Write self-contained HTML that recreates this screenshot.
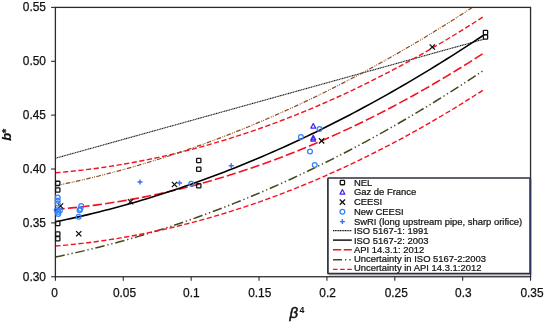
<!DOCTYPE html>
<html><head><meta charset="utf-8"><title>b* versus beta^4</title>
<style>
html,body{margin:0;padding:0;background:#fff;}
svg{display:block;font-family:"Liberation Sans",sans-serif;}
</style></head><body>
<svg width="544" height="322" viewBox="0 0 544 322">
<rect width="544" height="322" fill="#fff"/>
<g id="curves">
<path d="M55.40 158.24 L60.83 156.73 L66.26 155.22 L71.69 153.71 L77.12 152.20 L82.55 150.69 L87.98 149.19 L93.41 147.68 L98.84 146.17 L104.27 144.66 L109.70 143.15 L115.13 141.64 L120.56 140.14 L125.99 138.63 L131.42 137.12 L136.85 135.61 L142.28 134.10 L147.71 132.59 L153.15 131.09 L158.58 129.58 L164.01 128.07 L169.44 126.56 L174.87 125.05 L180.30 123.54 L185.73 122.04 L191.16 120.53 L196.59 119.02 L202.02 117.51 L207.45 116.00 L212.88 114.49 L218.31 112.99 L223.74 111.48 L229.17 109.97 L234.60 108.46 L240.03 106.95 L245.46 105.44 L250.89 103.94 L256.32 102.43 L261.75 100.92 L267.18 99.41 L272.61 97.90 L278.04 96.39 L283.47 94.88 L288.90 93.38 L294.33 91.87 L299.76 90.36 L305.19 88.85 L310.62 87.34 L316.05 85.83 L321.48 84.33 L326.91 82.82 L332.34 81.31 L337.77 79.80 L343.21 78.29 L348.64 76.78 L354.07 75.28 L359.50 73.77 L364.93 72.26 L370.36 70.75 L375.79 69.24 L381.22 67.73 L386.65 66.23 L392.08 64.72 L397.51 63.21 L402.94 61.70 L408.37 60.19 L413.80 58.68 L419.23 57.18 L424.66 55.67 L430.09 54.16 L435.52 52.65 L440.95 51.14 L446.38 49.63 L451.81 48.13 L457.24 46.62 L462.67 45.11 L468.10 43.60 L473.53 42.09 L478.96 40.58 L484.39 39.08" fill="none" stroke="#1a1a1a" stroke-width="1.1" stroke-dasharray="1.2 0.5"/>
<path d="M55.40 257.03 L60.83 255.91 L66.26 254.76 L71.69 253.58 L77.12 252.36 L82.55 251.12 L87.98 249.84 L93.41 248.53 L98.84 247.18 L104.27 245.81 L109.70 244.40 L115.13 242.96 L120.56 241.49 L125.99 239.98 L131.42 238.45 L136.85 236.88 L142.28 235.28 L147.71 233.65 L153.15 231.98 L158.58 230.28 L164.01 228.56 L169.44 226.80 L174.87 225.00 L180.30 223.18 L185.73 221.32 L191.16 219.43 L196.59 217.51 L202.02 215.56 L207.45 213.57 L212.88 211.56 L218.31 209.51 L223.74 207.43 L229.17 205.31 L234.60 203.17 L240.03 200.99 L245.46 198.78 L250.89 196.54 L256.32 194.27 L261.75 191.96 L267.18 189.62 L272.61 187.25 L278.04 184.85 L283.47 182.42 L288.90 179.95 L294.33 177.45 L299.76 174.92 L305.19 172.36 L310.62 169.77 L316.05 167.14 L321.48 164.48 L326.91 161.79 L332.34 159.07 L337.77 156.31 L343.21 153.53 L348.64 150.71 L354.07 147.86 L359.50 144.98 L364.93 142.06 L370.36 139.11 L375.79 136.13 L381.22 133.12 L386.65 130.08 L392.08 127.01 L397.51 123.90 L402.94 120.76 L408.37 117.59 L413.80 114.38 L419.23 111.15 L424.66 107.88 L430.09 104.58 L435.52 101.25 L440.95 97.89 L446.38 94.49 L451.81 91.06 L457.24 87.60 L462.67 84.11 L468.10 80.59 L473.53 77.03 L478.96 73.44 L484.39 69.82" fill="none" stroke="#434b1c" stroke-width="1.5" stroke-dasharray="9.5 2.8 1.3 2.8 1.3 2.8"/>
<path d="M55.40 172.78 L60.83 172.32 L66.26 171.82 L71.69 171.28 L77.12 170.70 L82.55 170.08 L87.98 169.42 L93.41 168.73 L98.84 167.99 L104.27 167.22 L109.70 166.40 L115.13 165.55 L120.56 164.66 L125.99 163.73 L131.42 162.76 L136.85 161.75 L142.28 160.70 L147.71 159.62 L153.15 158.49 L158.58 157.33 L164.01 156.12 L169.44 154.88 L174.87 153.60 L180.30 152.28 L185.73 150.92 L191.16 149.52 L196.59 148.08 L202.02 146.61 L207.45 145.09 L212.88 143.53 L218.31 141.94 L223.74 140.31 L229.17 138.64 L234.60 136.92 L240.03 135.17 L245.46 133.39 L250.89 131.56 L256.32 129.69 L261.75 127.78 L267.18 125.84 L272.61 123.85 L278.04 121.83 L283.47 119.77 L288.90 117.67 L294.33 115.53 L299.76 113.35 L305.19 111.13 L310.62 108.87 L316.05 106.58 L321.48 104.24 L326.91 101.87 L332.34 99.45 L337.77 97.00 L343.21 94.51 L348.64 91.98 L354.07 89.41 L359.50 86.80 L364.93 84.15 L370.36 81.47 L375.79 78.74 L381.22 75.98 L386.65 73.17 L392.08 70.33 L397.51 67.45 L402.94 64.53 L408.37 61.57 L413.80 58.57 L419.23 55.53 L424.66 52.45 L430.09 49.34 L435.52 46.18 L440.95 42.99 L446.38 39.75 L451.81 36.48 L457.24 33.17 L462.67 29.82 L468.10 26.43 L473.53 23.00 L478.96 19.54 L484.39 16.03" fill="none" stroke="#f5101e" stroke-width="1.4" stroke-dasharray="5.2 2.5"/>
<path d="M55.40 246.04 L60.83 245.58 L66.26 245.08 L71.69 244.54 L77.12 243.96 L82.55 243.34 L87.98 242.69 L93.41 241.99 L98.84 241.25 L104.27 240.48 L109.70 239.67 L115.13 238.81 L120.56 237.92 L125.99 236.99 L131.42 236.02 L136.85 235.01 L142.28 233.97 L147.71 232.88 L153.15 231.75 L158.58 230.59 L164.01 229.39 L169.44 228.14 L174.87 226.86 L180.30 225.54 L185.73 224.18 L191.16 222.78 L196.59 221.35 L202.02 219.87 L207.45 218.35 L212.88 216.80 L218.31 215.20 L223.74 213.57 L229.17 211.90 L234.60 210.19 L240.03 208.44 L245.46 206.65 L250.89 204.82 L256.32 202.95 L261.75 201.05 L267.18 199.10 L272.61 197.12 L278.04 195.09 L283.47 193.03 L288.90 190.93 L294.33 188.79 L299.76 186.61 L305.19 184.39 L310.62 182.14 L316.05 179.84 L321.48 177.50 L326.91 175.13 L332.34 172.72 L337.77 170.26 L343.21 167.77 L348.64 165.24 L354.07 162.67 L359.50 160.06 L364.93 157.42 L370.36 154.73 L375.79 152.00 L381.22 149.24 L386.65 146.43 L392.08 143.59 L397.51 140.71 L402.94 137.79 L408.37 134.83 L413.80 131.83 L419.23 128.79 L424.66 125.72 L430.09 122.60 L435.52 119.44 L440.95 116.25 L446.38 113.02 L451.81 109.75 L457.24 106.43 L462.67 103.08 L468.10 99.69 L473.53 96.27 L478.96 92.80 L484.39 89.29" fill="none" stroke="#f5101e" stroke-width="1.4" stroke-dasharray="5.2 2.5"/>
<path d="M55.40 185.71 L60.83 184.60 L66.26 183.46 L71.69 182.29 L77.12 181.09 L82.55 179.86 L87.98 178.59 L93.41 177.29 L98.84 175.96 L104.27 174.60 L109.70 173.20 L115.13 171.78 L120.56 170.32 L125.99 168.83 L131.42 167.30 L136.85 165.75 L142.28 164.16 L147.71 162.54 L153.15 160.89 L158.58 159.21 L164.01 157.49 L169.44 155.74 L174.87 153.96 L180.30 152.15 L185.73 150.31 L191.16 148.43 L196.59 146.52 L202.02 144.58 L207.45 142.61 L212.88 140.61 L218.31 138.57 L223.74 136.50 L229.17 134.40 L234.60 132.27 L240.03 130.11 L245.46 127.91 L250.89 125.68 L256.32 123.42 L261.75 121.13 L267.18 118.80 L272.61 116.45 L278.04 114.06 L283.47 111.64 L288.90 109.18 L294.33 106.70 L299.76 104.18 L305.19 101.63 L310.62 99.05 L316.05 96.44 L321.48 93.79 L326.91 91.11 L332.34 88.40 L337.77 85.66 L343.21 82.89 L348.64 80.08 L354.07 77.25 L359.50 74.38 L364.93 71.47 L370.36 68.54 L375.79 65.57 L381.22 62.58 L386.65 59.55 L392.08 56.48 L397.51 53.39 L402.94 50.26 L408.37 47.10 L413.80 43.91 L419.23 40.69 L424.66 37.44 L430.09 34.15 L435.52 30.83 L440.95 27.48 L446.38 24.10 L451.81 20.68 L457.24 17.24 L462.67 13.76 L468.10 10.25 L472.46 7.40" fill="none" stroke="#8a491d" stroke-width="1.2" stroke-dasharray="4.6 1.5 0.9 1.1 0.9 1.5"/>
<path d="M55.40 209.41 L60.83 208.95 L66.26 208.45 L71.69 207.91 L77.12 207.33 L82.55 206.71 L87.98 206.05 L93.41 205.36 L98.84 204.62 L104.27 203.85 L109.70 203.04 L115.13 202.18 L120.56 201.29 L125.99 200.36 L131.42 199.39 L136.85 198.38 L142.28 197.34 L147.71 196.25 L153.15 195.12 L158.58 193.96 L164.01 192.76 L169.44 191.51 L174.87 190.23 L180.30 188.91 L185.73 187.55 L191.16 186.15 L196.59 184.71 L202.02 183.24 L207.45 181.72 L212.88 180.17 L218.31 178.57 L223.74 176.94 L229.17 175.27 L234.60 173.56 L240.03 171.81 L245.46 170.02 L250.89 168.19 L256.32 166.32 L261.75 164.42 L267.18 162.47 L272.61 160.49 L278.04 158.46 L283.47 156.40 L288.90 154.30 L294.33 152.16 L299.76 149.98 L305.19 147.76 L310.62 145.50 L316.05 143.21 L321.48 140.87 L326.91 138.50 L332.34 136.08 L337.77 133.63 L343.21 131.14 L348.64 128.61 L354.07 126.04 L359.50 123.43 L364.93 120.78 L370.36 118.10 L375.79 115.37 L381.22 112.61 L386.65 109.80 L392.08 106.96 L397.51 104.08 L402.94 101.16 L408.37 98.20 L413.80 95.20 L419.23 92.16 L424.66 89.08 L430.09 85.97 L435.52 82.81 L440.95 79.62 L446.38 76.39 L451.81 73.11 L457.24 69.80 L462.67 66.45 L468.10 63.06 L473.53 59.63 L478.96 56.17 L484.39 52.66" fill="none" stroke="#f5101e" stroke-width="1.6" stroke-dasharray="9.3 3.2"/>
<path d="M55.40 221.80 L60.83 220.68 L66.26 219.53 L71.69 218.35 L77.12 217.13 L82.55 215.89 L87.98 214.61 L93.41 213.29 L98.84 211.95 L104.27 210.57 L109.70 209.17 L115.13 207.73 L120.56 206.25 L125.99 204.75 L131.42 203.21 L136.85 201.65 L142.28 200.05 L147.71 198.41 L153.15 196.75 L158.58 195.05 L164.01 193.32 L169.44 191.56 L174.87 189.77 L180.30 187.95 L185.73 186.09 L191.16 184.20 L196.59 182.28 L202.02 180.33 L207.45 178.34 L212.88 176.33 L218.31 174.28 L223.74 172.20 L229.17 170.08 L234.60 167.94 L240.03 165.76 L245.46 163.55 L250.89 161.31 L256.32 159.03 L261.75 156.73 L267.18 154.39 L272.61 152.02 L278.04 149.62 L283.47 147.19 L288.90 144.72 L294.33 142.22 L299.76 139.69 L305.19 137.13 L310.62 134.54 L316.05 131.91 L321.48 129.25 L326.91 126.56 L332.34 123.84 L337.77 121.08 L343.21 118.30 L348.64 115.48 L354.07 112.63 L359.50 109.74 L364.93 106.83 L370.36 103.88 L375.79 100.90 L381.22 97.89 L386.65 94.85 L392.08 91.77 L397.51 88.67 L402.94 85.53 L408.37 82.36 L413.80 79.15 L419.23 75.92 L424.66 72.65 L430.09 69.35 L435.52 66.02 L440.95 62.66 L446.38 59.26 L451.81 55.83 L457.24 52.37 L462.67 48.88 L468.10 45.36 L473.53 41.80 L478.96 38.21 L484.39 34.59" fill="none" stroke="#000" stroke-width="1.6"/>
</g>
<g id="axes">
<rect x="55.40" y="7.40" width="475.15" height="269.35" fill="none" stroke="#2b2b2b" stroke-width="1.3"/>
<path d="M51.10 276.75 H55.40" stroke="#2b2b2b" stroke-width="1.1"/>
<text x="46" y="280.65" text-anchor="end" font-size="11.9" fill="#111" stroke="#111" stroke-width="0.25">0.30</text>
<path d="M51.10 222.88 H55.40" stroke="#2b2b2b" stroke-width="1.1"/>
<text x="46" y="226.78" text-anchor="end" font-size="11.9" fill="#111" stroke="#111" stroke-width="0.25">0.35</text>
<path d="M51.10 169.01 H55.40" stroke="#2b2b2b" stroke-width="1.1"/>
<text x="46" y="172.91" text-anchor="end" font-size="11.9" fill="#111" stroke="#111" stroke-width="0.25">0.40</text>
<path d="M51.10 115.14 H55.40" stroke="#2b2b2b" stroke-width="1.1"/>
<text x="46" y="119.04" text-anchor="end" font-size="11.9" fill="#111" stroke="#111" stroke-width="0.25">0.45</text>
<path d="M51.10 61.27 H55.40" stroke="#2b2b2b" stroke-width="1.1"/>
<text x="46" y="65.17" text-anchor="end" font-size="11.9" fill="#111" stroke="#111" stroke-width="0.25">0.50</text>
<path d="M51.10 7.40 H55.40" stroke="#2b2b2b" stroke-width="1.1"/>
<text x="46" y="11.30" text-anchor="end" font-size="11.9" fill="#111" stroke="#111" stroke-width="0.25">0.55</text>
<path d="M55.40 276.75 V280.75" stroke="#2b2b2b" stroke-width="1.1"/>
<text x="54.60" y="296.5" text-anchor="middle" font-size="11.9" fill="#111" stroke="#111" stroke-width="0.25">0</text>
<path d="M123.28 276.75 V280.75" stroke="#2b2b2b" stroke-width="1.1"/>
<text x="124.48" y="296.5" text-anchor="middle" font-size="11.9" fill="#111" stroke="#111" stroke-width="0.25">0.05</text>
<path d="M191.16 276.75 V280.75" stroke="#2b2b2b" stroke-width="1.1"/>
<text x="191.36" y="296.5" text-anchor="middle" font-size="11.9" fill="#111" stroke="#111" stroke-width="0.25">0.1</text>
<path d="M259.04 276.75 V280.75" stroke="#2b2b2b" stroke-width="1.1"/>
<text x="259.74" y="296.5" text-anchor="middle" font-size="11.9" fill="#111" stroke="#111" stroke-width="0.25">0.15</text>
<path d="M326.91 276.75 V280.75" stroke="#2b2b2b" stroke-width="1.1"/>
<text x="327.61" y="296.5" text-anchor="middle" font-size="11.9" fill="#111" stroke="#111" stroke-width="0.25">0.2</text>
<path d="M394.79 276.75 V280.75" stroke="#2b2b2b" stroke-width="1.1"/>
<text x="396.24" y="296.5" text-anchor="middle" font-size="11.9" fill="#111" stroke="#111" stroke-width="0.25">0.25</text>
<path d="M462.67 276.75 V280.75" stroke="#2b2b2b" stroke-width="1.1"/>
<text x="463.37" y="296.5" text-anchor="middle" font-size="11.9" fill="#111" stroke="#111" stroke-width="0.25">0.3</text>
<path d="M530.55 276.75 V280.75" stroke="#2b2b2b" stroke-width="1.1"/>
<text x="532.00" y="296.5" text-anchor="middle" font-size="11.9" fill="#111" stroke="#111" stroke-width="0.25">0.35</text>
</g>
<g id="markers">
<rect x="55.60" y="181.25" width="4.30" height="4.30" rx="0.7" fill="none" stroke="#111" stroke-width="1.3"/>
<rect x="55.60" y="187.85" width="4.30" height="4.30" rx="0.7" fill="none" stroke="#111" stroke-width="1.3"/>
<rect x="55.60" y="221.35" width="4.30" height="4.30" rx="0.7" fill="none" stroke="#111" stroke-width="1.3"/>
<rect x="55.60" y="231.85" width="4.30" height="4.30" rx="0.7" fill="none" stroke="#111" stroke-width="1.3"/>
<rect x="55.60" y="236.60" width="4.30" height="4.30" rx="0.7" fill="none" stroke="#111" stroke-width="1.3"/>
<rect x="196.60" y="158.35" width="4.30" height="4.30" rx="0.7" fill="none" stroke="#111" stroke-width="1.3"/>
<rect x="196.60" y="167.10" width="4.30" height="4.30" rx="0.7" fill="none" stroke="#111" stroke-width="1.3"/>
<rect x="196.60" y="183.60" width="4.30" height="4.30" rx="0.7" fill="none" stroke="#111" stroke-width="1.3"/>
<rect x="483.35" y="30.35" width="4.30" height="4.30" rx="0.7" fill="none" stroke="#111" stroke-width="1.3"/>
<rect x="483.35" y="34.85" width="4.30" height="4.30" rx="0.7" fill="none" stroke="#111" stroke-width="1.3"/>
<path d="M57.85 203.35 L63.15 208.65 M57.85 208.65 L63.15 203.35" fill="none" stroke="#111" stroke-width="1.3"/>
<path d="M76.10 231.10 L81.40 236.40 M76.10 236.40 L81.40 231.10" fill="none" stroke="#111" stroke-width="1.3"/>
<path d="M127.85 199.10 L133.15 204.40 M127.85 204.40 L133.15 199.10" fill="none" stroke="#111" stroke-width="1.3"/>
<path d="M171.85 181.85 L177.15 187.15 M171.85 187.15 L177.15 181.85" fill="none" stroke="#111" stroke-width="1.3"/>
<path d="M318.95 138.25 L324.25 143.55 M318.95 143.55 L324.25 138.25" fill="none" stroke="#111" stroke-width="1.3"/>
<path d="M429.60 44.35 L434.90 49.65 M429.60 49.65 L434.90 44.35" fill="none" stroke="#111" stroke-width="1.3"/>
<circle cx="57.70" cy="197.50" r="2.40" fill="none" stroke="#3580fa" stroke-width="1.25"/>
<circle cx="57.70" cy="200.60" r="2.40" fill="none" stroke="#3580fa" stroke-width="1.25"/>
<circle cx="57.70" cy="203.60" r="2.40" fill="none" stroke="#3580fa" stroke-width="1.25"/>
<circle cx="56.75" cy="210.30" r="2.40" fill="none" stroke="#3580fa" stroke-width="1.25"/>
<circle cx="59.90" cy="210.60" r="2.40" fill="none" stroke="#3580fa" stroke-width="1.25"/>
<circle cx="58.30" cy="214.00" r="2.40" fill="none" stroke="#3580fa" stroke-width="1.25"/>
<circle cx="58.30" cy="212.00" r="2.40" fill="none" stroke="#3580fa" stroke-width="1.25"/>
<circle cx="81.20" cy="206.10" r="2.40" fill="none" stroke="#3580fa" stroke-width="1.25"/>
<circle cx="80.40" cy="208.90" r="2.40" fill="none" stroke="#3580fa" stroke-width="1.25"/>
<circle cx="79.50" cy="210.20" r="2.40" fill="none" stroke="#3580fa" stroke-width="1.25"/>
<circle cx="78.70" cy="216.75" r="2.40" fill="none" stroke="#3580fa" stroke-width="1.25"/>
<circle cx="191.25" cy="183.75" r="2.40" fill="none" stroke="#3580fa" stroke-width="1.25"/>
<circle cx="319.50" cy="129.00" r="2.40" fill="none" stroke="#3580fa" stroke-width="1.25"/>
<circle cx="300.90" cy="136.90" r="2.40" fill="none" stroke="#3580fa" stroke-width="1.25"/>
<circle cx="310.00" cy="151.50" r="2.40" fill="none" stroke="#3580fa" stroke-width="1.25"/>
<circle cx="314.75" cy="165.00" r="2.40" fill="none" stroke="#3580fa" stroke-width="1.25"/>
<path d="M137.50 182.00 H142.50 M140.00 179.50 V184.50" fill="none" stroke="#3a6cf5" stroke-width="1.4"/>
<path d="M177.00 183.00 H182.00 M179.50 180.50 V185.50" fill="none" stroke="#3a6cf5" stroke-width="1.4"/>
<path d="M228.75 165.75 H233.75 M231.25 163.25 V168.25" fill="none" stroke="#3a6cf5" stroke-width="1.4"/>
<path d="M313.25 123.56 L315.67 128.10 L310.83 128.10 Z" fill="none" stroke="#4a22f5" stroke-width="1.2" stroke-linejoin="round"/>
<path d="M313.25 135.26 L315.67 139.80 L310.83 139.80 Z" fill="none" stroke="#4a22f5" stroke-width="1.2" stroke-linejoin="round"/>
<path d="M313.25 136.66 L315.67 141.20 L310.83 141.20 Z" fill="none" stroke="#4a22f5" stroke-width="1.2" stroke-linejoin="round"/>
</g>
<g id="legend">
<path d="M329 275.4 H530" stroke="#cfcfee" stroke-width="1.1"/>
<rect x="327.90" y="178.00" width="202.20" height="95.70" fill="#fff" rx="0.8" stroke="#2e2f39" stroke-width="1.7"/>
<text x="353.9" y="185.75" font-size="9.45" fill="#111" stroke="#111" stroke-width="0.22">NEL</text>
<text x="353.9" y="195.10" font-size="9.45" fill="#111" stroke="#111" stroke-width="0.22">Gaz de France</text>
<text x="353.9" y="205.00" font-size="9.45" fill="#111" stroke="#111" stroke-width="0.22">CEESI</text>
<text x="353.9" y="214.60" font-size="9.45" fill="#111" stroke="#111" stroke-width="0.22">New CEESI</text>
<text x="353.9" y="224.50" font-size="9.45" fill="#111" stroke="#111" stroke-width="0.22">SwRI (long upstream pipe, sharp orifice)</text>
<text x="353.9" y="234.10" font-size="9.45" fill="#111" stroke="#111" stroke-width="0.22">ISO 5167-1: 1991</text>
<text x="353.9" y="243.80" font-size="9.45" fill="#111" stroke="#111" stroke-width="0.22">ISO 5167-2: 2003</text>
<text x="353.9" y="252.90" font-size="9.45" fill="#111" stroke="#111" stroke-width="0.22">API 14.3.1: 2012</text>
<text x="353.9" y="262.20" font-size="9.45" fill="#111" stroke="#111" stroke-width="0.22">Uncertainty in ISO 5167-2:2003</text>
<text x="353.9" y="271.10" font-size="9.45" fill="#111" stroke="#111" stroke-width="0.22">Uncertainty in API 14.3.1:2012</text>
<path d="M530.75 178.5 V274.5" stroke="#30346a" stroke-width="1"/>
<rect x="340.25" y="180.45" width="4.30" height="4.30" rx="0.7" fill="none" stroke="#111" stroke-width="1.3"/>
<path d="M342.40 189.56 L344.82 194.10 L339.98 194.10 Z" fill="none" stroke="#4a22f5" stroke-width="1.2" stroke-linejoin="round"/>
<path d="M339.75 199.45 L345.05 204.75 M339.75 204.75 L345.05 199.45" fill="none" stroke="#111" stroke-width="1.3"/>
<circle cx="342.40" cy="211.80" r="2.40" fill="none" stroke="#3580fa" stroke-width="1.25"/>
<path d="M339.90 221.60 H344.90 M342.40 219.10 V224.10" fill="none" stroke="#3a6cf5" stroke-width="1.4"/>
<path d="M333 230.60 H351.8" fill="none" stroke="#1a1a1a" stroke-width="1.1" stroke-dasharray="1.2 0.5"/>
<path d="M333 240.10 H351.8" fill="none" stroke="#000" stroke-width="1.4"/>
<path d="M333 249.80 H351.8" fill="none" stroke="#f5101e" stroke-width="1.6" stroke-dasharray="8.2 2.6"/>
<path d="M333 259.70 H351.8" fill="none" stroke="#434b1c" stroke-width="1.6" stroke-dasharray="9 3 1.3 3 1.3 20"/>
<path d="M333 269.40 H351.8" fill="none" stroke="#f5101e" stroke-width="1.4" stroke-dasharray="4.6 2.5"/>
</g>
<g id="axis-labels">
<text transform="translate(11.3 140.8) rotate(-90)" font-size="13" font-weight="bold" font-style="italic" fill="#111" stroke="#111" stroke-width="0.25">b<tspan dy="-1.7" dx="-0.7" font-size="11">*</tspan></text>
<text x="289.6" y="318" font-size="15" font-style="italic" fill="#111" stroke="#111" stroke-width="0.55">β</text>
<text x="299.4" y="313.4" font-size="8.8" font-weight="bold" fill="#111">4</text>
</g>
</svg>
</body></html>
